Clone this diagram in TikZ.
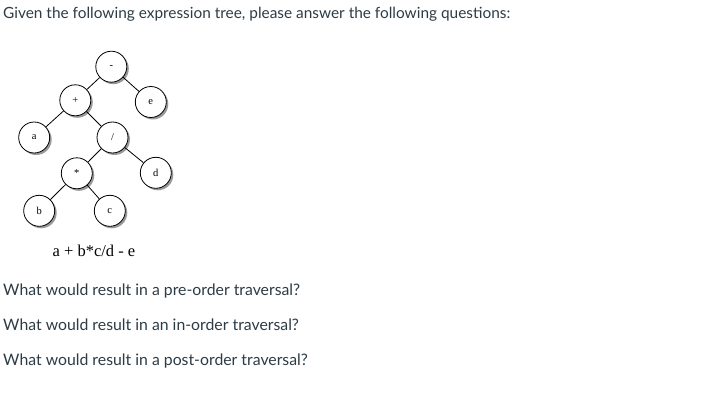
\documentclass[tikz,border=0pt]{standalone}
\usepackage{fontspec}
\setmainfont{Liberation Serif}
\newfontfamily\latofont{Lato}
\newfontfamily\timesfont{Liberation Serif}
\usetikzlibrary{shadows}
\definecolor{canvastext}{HTML}{2D3B45}

\begin{document}
\begin{tikzpicture}[x=1pt,y=-1pt,
    treenode/.style={circle,draw,fill=white,minimum size=31pt,inner sep=0pt,line width=0.8pt,
      font=\timesfont\fontsize{10.5}{10.5}\selectfont,
      drop shadow={shadow xshift=2pt,shadow yshift=-2pt,fill=black!40,opacity=1}},
    question/.style={anchor=west,inner sep=0pt,text=canvastext,font=\latofont\fontsize{15.8}{18}\selectfont}]
      \useasboundingbox (0,0) rectangle (723,409);
      \node[question,font=\latofont\fontsize{15.4}{18}\selectfont] (intro) at (3,14) {Given the following expression tree, please answer the following questions:};
      % the tree
      \node[treenode] (minus) at (111.3,66.7) {-};
      \node[treenode] (plus) at (75.3,100.3) {+};
      \node[treenode] (e) at (150.8,102) {e};
      \node[treenode] (a) at (34.2,137.5) {a};
      \node[treenode] (div) at (112.5,137.5) {/};
      \node[treenode] (mul) at (76.8,173.3) {*};
      \node[treenode] (d) at (155.8,172.8) {d};
      \node[treenode] (b) at (39.2,210.8) {b};
      \node[treenode] (c) at (109.8,210.8) {c};
      \draw[line width=0.8pt] (minus) -- (plus);
      \draw[line width=0.8pt] (minus) -- (e);
      \draw[line width=0.8pt] (plus) -- (a);
      \draw[line width=0.8pt] (plus) -- (div);
      \draw[line width=0.8pt] (div) -- (mul);
      \draw[line width=0.8pt] (div) -- (d);
      \draw[line width=0.8pt] (mul) -- (b);
      \draw[line width=0.8pt] (mul) -- (c);
      \node[font=\timesfont\fontsize{16.5}{18}\selectfont] (expr) at (94,251) {a + b*c/d - e};
      % the questions
      \node[question] (pre) at (3,290.7) {What would result in a pre-order traversal?};
      \node[question] (in) at (3,325) {What would result in an in-order traversal?};
      \node[question] (post) at (3,360.7) {What would result in a post-order traversal?};
    \end{tikzpicture}
\end{document}
